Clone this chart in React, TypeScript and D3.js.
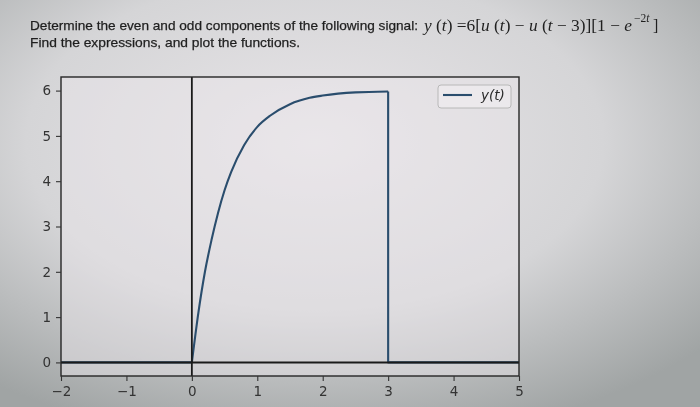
import React, { useEffect, useRef } from 'react';
import * as d3 from 'd3';

// x(t) range shown in the plot
const xDomain: [number, number] = [-2, 5];
const yDomain: [number, number] = [-0.3, 6.3];
const xTicks = [-2, -1, 0, 1, 2, 3, 4, 5];
const yTicks = [0, 1, 2, 3, 4, 5, 6];

// values (t, y)
const riseT = [0, 0.1, 0.2, 0.3, 0.4, 0.5, 0.6, 0.8, 1.0, 1.2, 1.5, 1.8, 2.0, 2.5, 3.0];
const riseY = [0, 1.1, 2.0, 2.7, 3.3, 3.8, 4.2, 4.8, 5.2, 5.45, 5.7, 5.84, 5.89, 5.96, 5.98];
// flat parts and the drop at t = 3
const headT = [-2, 0];
const headY = [0, 0];
const tailT = [3, 3, 5];
const tailY = [5.98, 0, 0];

const legendLabel = 'y(t)';

const App: React.FC = () => {
  const ref = useRef<SVGSVGElement>(null);

  useEffect(() => {
    if (!ref.current) return;
    const svg = d3.select(ref.current);
    svg.selectAll('*').remove();

    const W = 700, H = 407;
    const m = { left: 61, right: 519, top: 77, bottom: 376 };

    // photo background
    const defs = svg.append('defs');
    const bg = defs.append('radialGradient').attr('id', 'bg')
      .attr('cx', 0.45).attr('cy', 0.35).attr('r', 0.75);
    bg.append('stop').attr('offset', '0%').attr('stop-color', '#e8e5e8');
    bg.append('stop').attr('offset', '55%').attr('stop-color', '#d5d5d7');
    bg.append('stop').attr('offset', '100%').attr('stop-color', '#a0a4a4');
    svg.append('rect').attr('width', W).attr('height', H).attr('fill', 'url(#bg)');

    const ink = '#1f1f1f';

    // header text
    svg.append('text')
      .attr('x', 30).attr('y', 30)
      .attr('font-family', 'Liberation Sans, Arial, sans-serif')
      .attr('font-size', 13.5)
      .attr('fill', ink).attr('stroke', ink).attr('stroke-width', 0.25)
      .attr('textLength', 388).attr('lengthAdjust', 'spacingAndGlyphs')
      .text('Determine the even and odd components of the following signal:');
    svg.append('text')
      .attr('x', 30).attr('y', 47)
      .attr('font-family', 'Liberation Sans, Arial, sans-serif')
      .attr('font-size', 13.5)
      .attr('fill', ink).attr('stroke', ink).attr('stroke-width', 0.25)
      .attr('textLength', 270).attr('lengthAdjust', 'spacingAndGlyphs')
      .text('Find the expressions, and plot the functions.');

    // formula
    const f = svg.append('text')
      .attr('x', 424).attr('y', 31)
      .attr('font-family', 'Liberation Serif, Times New Roman, serif')
      .attr('font-size', 16)
      .attr('fill', ink)
      .attr('textLength', 208).attr('lengthAdjust', 'spacingAndGlyphs');
    const parts: [string, boolean][] = [
      ['y', true], [' (', false], ['t', true], [') =6[', false], ['u', true], [' (', false],
      ['t', true], [') − ', false], ['u', true], [' (', false], ['t', true], [' − 3)][1 − ', false], ['e', true],
    ];
    parts.forEach(([s, it]) => f.append('tspan').attr('font-style', it ? 'italic' : 'normal').text(s));
    const sup = svg.append('text')
      .attr('x', 634).attr('y', 22)
      .attr('font-family', 'Liberation Serif, Times New Roman, serif')
      .attr('font-size', 11.5)
      .attr('fill', ink);
    sup.append('tspan').text('−2');
    sup.append('tspan').attr('font-style', 'italic').text('t');
    svg.append('text')
      .attr('x', 653).attr('y', 31)
      .attr('font-family', 'Liberation Serif, Times New Roman, serif')
      .attr('font-size', 16)
      .attr('fill', ink)
      .text(']');

    const x = d3.scaleLinear().domain(xDomain).range([m.left, m.right]);
    const y = d3.scaleLinear().domain(yDomain).range([m.bottom, m.top]);

    // plot area tint
    svg.append('rect')
      .attr('x', m.left).attr('y', m.top)
      .attr('width', m.right - m.left).attr('height', m.bottom - m.top)
      .attr('fill', '#ece7eb').attr('opacity', 0.45);

    const g = svg.append('g');
    const lineColor = '#2a4d6d';

    const smooth = d3.line<number>()
      .x((_, i) => x(riseT[i]))
      .y(d => y(d))
      .curve(d3.curveMonotoneX);
    const head = d3.line<number>().x((_, i) => x(headT[i])).y(d => y(d));
    const tail = d3.line<number>().x((_, i) => x(tailT[i])).y(d => y(d));

    [head(headY), smooth(riseY), tail(tailY)].forEach(d => {
      g.append('path')
        .attr('d', d || '')
        .attr('fill', 'none')
        .attr('stroke', lineColor)
        .attr('stroke-width', 2.1)
        .attr('stroke-linejoin', 'round');
    });

    // axhline / axvline at zero
    g.append('line')
      .attr('x1', m.left).attr('x2', m.right)
      .attr('y1', y(0)).attr('y2', y(0))
      .attr('stroke', '#1a1a1a').attr('stroke-width', 2);
    g.append('line')
      .attr('x1', x(0)).attr('x2', x(0))
      .attr('y1', m.top).attr('y2', m.bottom)
      .attr('stroke', '#1a1a1a').attr('stroke-width', 1.8);

    // frame
    svg.append('rect')
      .attr('x', m.left).attr('y', m.top)
      .attr('width', m.right - m.left).attr('height', m.bottom - m.top)
      .attr('fill', 'none').attr('stroke', '#262626').attr('stroke-width', 1.4);

    // axes
    const xAxis = svg.append('g')
      .attr('transform', `translate(0,${m.bottom})`)
      .call(d3.axisBottom(x).tickValues(xTicks).tickSize(5).tickPadding(5)
        .tickFormat(d => d3.format('d')(d as number).replace('-', '−')));
    const yAxis = svg.append('g')
      .attr('transform', `translate(${m.left},0)`)
      .call(d3.axisLeft(y).tickValues(yTicks).tickSize(5).tickPadding(5)
        .tickFormat(d => d3.format('d')(d as number)));
    [xAxis, yAxis].forEach(a => {
      a.select('.domain').remove();
      a.selectAll('line').attr('stroke', '#333').attr('stroke-width', 1.1);
      a.selectAll('text')
        .attr('font-family', 'DejaVu Sans, sans-serif')
        .attr('font-size', 13.5)
        .attr('fill', '#333');
    });

    // legend
    const lg = svg.append('g');
    lg.append('rect')
      .attr('x', 438).attr('y', 85).attr('width', 73).attr('height', 23)
      .attr('rx', 3)
      .attr('fill', '#f2eff2').attr('fill-opacity', 0.6)
      .attr('stroke', '#b8b8b8').attr('stroke-width', 1);
    lg.append('line')
      .attr('x1', 443).attr('x2', 472).attr('y1', 95).attr('y2', 95)
      .attr('stroke', lineColor).attr('stroke-width', 2.1);
    lg.append('text')
      .attr('x', 481).attr('y', 100)
      .attr('font-family', 'DejaVu Sans, sans-serif')
      .attr('font-style', 'italic')
      .attr('font-size', 13.5)
      .attr('fill', '#2a2a2a')
      .text(legendLabel);
  }, []);

  return (
    <svg
      ref={ref}
      width={700}
      height={407}
      style={{ position: 'fixed', left: 0, top: 0, display: 'block' }}
    />
  );
};

export default App;
